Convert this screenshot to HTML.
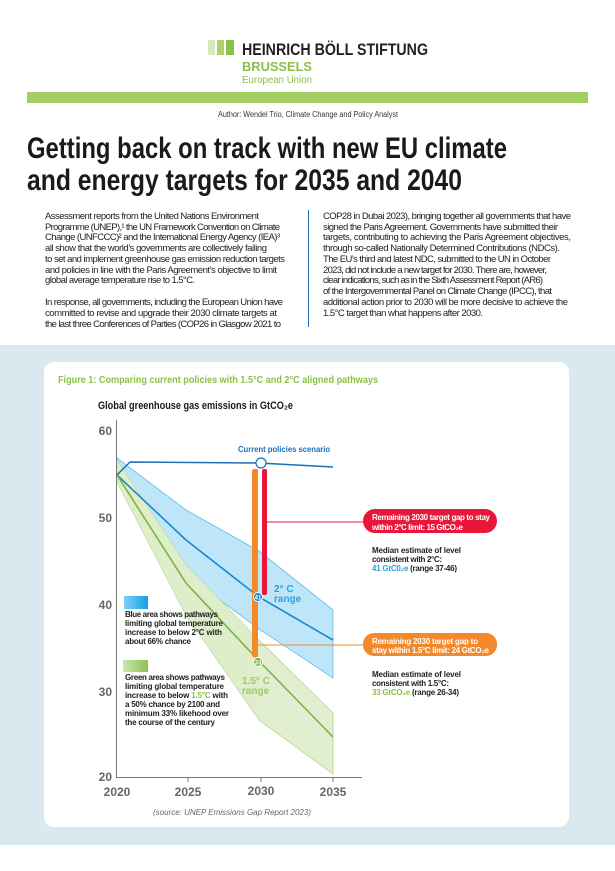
<!DOCTYPE html>
<html><head><meta charset="utf-8"><style>
html,body{margin:0;padding:0;background:#fff;}
svg{display:block;}
text{font-family:"Liberation Sans Narrow","Liberation Sans",sans-serif;}
</style></head><body>
<svg width="615" height="871" viewBox="0 0 615 871" xmlns="http://www.w3.org/2000/svg">
<defs>
<linearGradient id="bg1" x1="0" x2="1"><stop offset="0" stop-color="#7fd0f5"/><stop offset="1" stop-color="#10a0e0"/></linearGradient>
<linearGradient id="bg2" x1="0" x2="1"><stop offset="0" stop-color="#cfe6b0"/><stop offset="1" stop-color="#8cc152"/></linearGradient>
</defs>
<rect x="208" y="40" width="7" height="15" fill="#d6e8bf"/>
<rect x="217" y="40" width="7" height="15" fill="#a9d16f"/>
<rect x="226" y="40" width="8" height="15" fill="#8cc04a"/>
<text x="242" y="55" font-size="17" font-weight="bold" fill="#222" textLength="186" lengthAdjust="spacingAndGlyphs">HEINRICH BÖLL STIFTUNG</text>
<text x="242" y="71" font-size="13" font-weight="bold" fill="#8cc04a" textLength="70" lengthAdjust="spacingAndGlyphs">BRUSSELS</text>
<text x="242" y="83" font-size="10" fill="#8cc04a" textLength="70" lengthAdjust="spacingAndGlyphs">European Union</text>
<rect x="27" y="92" width="561" height="11" fill="#a3cf62"/>
<text x="218" y="117" font-size="8" fill="#333" textLength="180" lengthAdjust="spacingAndGlyphs">Author: Wendel Trio, Climate Change and Policy Analyst</text>
<text x="27" y="158" font-size="30" font-weight="bold" fill="#1a1a1a" textLength="480" lengthAdjust="spacingAndGlyphs">Getting back on track with new EU climate</text>
<text x="27" y="190" font-size="30" font-weight="bold" fill="#1a1a1a" textLength="435" lengthAdjust="spacingAndGlyphs">and energy targets for 2035 and 2040</text>
<g font-size="9.5" fill="#222" lengthAdjust="spacingAndGlyphs">
<text x="45" y="219" textLength="214">Assessment reports from the United Nations Environment</text>
<text x="45" y="230" textLength="235">Programme (UNEP),¹ the UN Framework Convention on Climate</text>
<text x="45" y="240" textLength="235">Change (UNFCCC)² and the International Energy Agency (IEA)³</text>
<text x="45" y="251" textLength="222">all show that the world’s governments are collectively failing</text>
<text x="45" y="262" textLength="240">to set and implement greenhouse gas emission reduction targets</text>
<text x="45" y="273" textLength="232">and policies in line with the Paris Agreement’s objective to limit</text>
<text x="45" y="283" textLength="150">global average temperature rise to 1.5°C.</text>
<text x="45" y="305" textLength="238">In response, all governments, including the European Union have</text>
<text x="45" y="316" textLength="232">committed to revise and upgrade their 2030 climate targets at</text>
<text x="45" y="327" textLength="236">the last three Conferences of Parties (COP26 in Glasgow 2021 to</text>
<text x="323" y="219" textLength="248">COP28 in Dubai 2023), bringing together all governments that have</text>
<text x="323" y="230" textLength="235">signed the Paris Agreement. Governments have submitted their</text>
<text x="323" y="240" textLength="248">targets, contributing to achieving the Paris Agreement objectives,</text>
<text x="323" y="251" textLength="237">through so-called Nationally Determined Contributions (NDCs).</text>
<text x="323" y="262" textLength="228">The EU’s third and latest NDC, submitted to the UN in October</text>
<text x="323" y="273" textLength="224">2023, did not include a new target for 2030. There are, however,</text>
<text x="323" y="283" textLength="220">clear indications, such as in the Sixth Assessment Report (AR6)</text>
<text x="323" y="294" textLength="229">of the Intergovernmental Panel on Climate Change (IPCC), that</text>
<text x="323" y="305" textLength="245">additional action prior to 2030 will be more decisive to achieve the</text>
<text x="323" y="316" textLength="160">1.5°C target than what happens after 2030.</text>
</g>
<rect x="308" y="210" width="1" height="117" fill="#2a6db5"/>
<rect x="0" y="345" width="615" height="500" fill="#dae8f0"/>
<rect x="44" y="362" width="525" height="465" rx="10" fill="#fff"/>
<text x="58" y="383" font-size="10" font-weight="bold" fill="#8cc04a" textLength="320" lengthAdjust="spacingAndGlyphs">Figure 1: Comparing current policies with 1.5°C and 2°C aligned pathways</text>
<text x="98" y="409" font-size="11" font-weight="bold" fill="#1a1a1a" textLength="195" lengthAdjust="spacingAndGlyphs">Global greenhouse gas emissions in GtCO₂e</text>
<polygon points="117,458 186,510 259,551 333,610 333,678 259,629 186,575 117,482" fill="#bfe5f8" stroke="#5fc1ee" stroke-width="0.8"/>
<polygon points="117,460 186,565 259,640 333,713 333,774 259,720 186,615 117,482" fill="#e1eed0" stroke="#b5d68d" stroke-width="0.8"/>
<polygon points="117,460 186,565 259,640 259,720 186,615 117,482" fill="#dcecc6" opacity="0.6"/>
<polyline points="117,475 186,540 259,597 333,640" fill="none" stroke="#1787d0" stroke-width="1.6"/>
<polyline points="117,475 186,583 259,661 333,737" fill="none" stroke="#7cb342" stroke-width="1.6"/>
<polyline points="117,475 130,462 259,463 333,467" fill="none" stroke="#1a6fb8" stroke-width="1.5"/>
<line x1="116.5" y1="420" x2="116.5" y2="777" stroke="#777" stroke-width="1"/>
<line x1="116" y1="777.5" x2="362" y2="777.5" stroke="#777" stroke-width="1"/>
<g stroke="#777"><line x1="188" y1="777" x2="188" y2="782"/><line x1="261" y1="777" x2="261" y2="782"/><line x1="333" y1="777" x2="333" y2="782"/></g>
<g font-size="12" font-weight="bold" fill="#666" text-anchor="end">
<text x="112" y="435">60</text><text x="112" y="522">50</text><text x="112" y="609">40</text><text x="112" y="696">30</text><text x="112" y="781">20</text>
</g>
<g font-size="12" font-weight="bold" fill="#666" text-anchor="middle">
<text x="117" y="796">2020</text><text x="188" y="796">2025</text><text x="261" y="795">2030</text><text x="333" y="796">2035</text>
</g>
<text x="232" y="815" font-size="8" font-style="italic" fill="#666" text-anchor="middle">(source: UNEP Emissions Gap Report 2023)</text>
<line x1="264" y1="522" x2="364" y2="522" stroke="#e8173a" stroke-width="1"/>
<line x1="258" y1="645" x2="364" y2="645" stroke="#f28a2b" stroke-width="1"/>
<rect x="252" y="469" width="6" height="188" rx="2" fill="#f28a2b"/>
<rect x="262" y="469" width="5" height="126" rx="2" fill="#e8173a"/>
<circle cx="261" cy="463" r="5" fill="#fff" stroke="#1a6fb8" stroke-width="1.2"/>
<circle cx="258" cy="597" r="4.5" fill="#1787d0" stroke="#fff" stroke-width="1"/>
<text x="258" y="599.5" font-size="6" font-weight="bold" fill="#fff" text-anchor="middle">41</text>
<circle cx="258" cy="662" r="4.5" fill="#7cb342" stroke="#fff" stroke-width="1"/>
<text x="258" y="664.5" font-size="6" font-weight="bold" fill="#fff" text-anchor="middle">33</text>
<text x="238" y="452" font-size="8" font-weight="bold" fill="#1a6fb8" textLength="92" lengthAdjust="spacingAndGlyphs">Current policies scenario</text>
<text x="274" y="592" font-size="10" font-weight="bold" fill="#29a3e0">2° C</text>
<text x="274" y="602" font-size="10" font-weight="bold" fill="#29a3e0">range</text>
<text x="242" y="684" font-size="10" font-weight="bold" fill="#9ccb6a">1.5° C</text>
<text x="242" y="694" font-size="10" font-weight="bold" fill="#9ccb6a">range</text>
<rect x="124" y="596" width="24" height="13" fill="url(#bg1)"/>
<g font-size="8" font-weight="bold" fill="#222" lengthAdjust="spacingAndGlyphs">
<text x="125" y="617" textLength="93">Blue area shows pathways</text>
<text x="125" y="626" textLength="98">limiting global temperature</text>
<text x="125" y="635" textLength="97">increase to below 2°C with</text>
<text x="125" y="644" textLength="66">about 66% chance</text>
<text x="125" y="680" textLength="100">Green area shows pathways</text>
<text x="125" y="689" textLength="99">limiting global temperature</text>
<text x="125" y="698" textLength="103">increase to below <tspan fill="#8cc04a">1.5°C</tspan> with</text>
<text x="125" y="707" textLength="95">a 50% chance by 2100 and</text>
<text x="125" y="716" textLength="104">minimum 33% likehood over</text>
<text x="125" y="725" textLength="90">the course of the century</text>
</g>
<rect x="123" y="660" width="25" height="12" fill="url(#bg2)"/>
<rect x="363" y="509" width="134" height="24" rx="12" fill="#e8173a"/>
<g font-size="8" font-weight="bold" fill="#fff" lengthAdjust="spacingAndGlyphs">
<text x="372" y="520" textLength="118">Remaining 2030 target gap to stay</text>
<text x="372" y="530" textLength="91">within 2°C limit: 15 GtCO₂e</text>
</g>
<rect x="363" y="633" width="134" height="23" rx="11" fill="#f28a2b"/>
<g font-size="8" font-weight="bold" fill="#fff" lengthAdjust="spacingAndGlyphs">
<text x="372" y="644" textLength="106">Remaining 2030 target gap to</text>
<text x="372" y="653" textLength="117">stay within 1.5°C limit: 24 GtCO₂e</text>
</g>
<g font-size="8" font-weight="bold" fill="#222" lengthAdjust="spacingAndGlyphs">
<text x="372" y="553" textLength="89">Median estimate of level</text>
<text x="372" y="562" textLength="70">consistent with 2°C:</text>
<text x="372" y="571" textLength="85"><tspan fill="#29a3e0">41 GtC0₂e</tspan> (range 37-46)</text>
<text x="372" y="677" textLength="89">Median estimate of level</text>
<text x="372" y="686" textLength="77">consistent with 1.5°C:</text>
<text x="372" y="695" textLength="87"><tspan fill="#8cc04a">33 GtCO₂e</tspan> (range 26-34)</text>
</g>
</svg>
</body></html>
